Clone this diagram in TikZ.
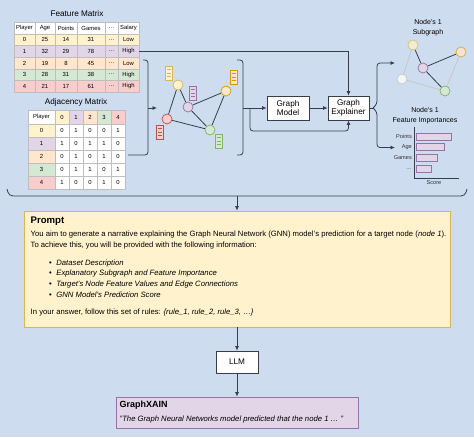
\documentclass[tikz,border=0pt]{standalone}
\usepackage{fontspec}
\setmainfont{Liberation Sans}
\usetikzlibrary{arrows.meta,positioning}
\definecolor{bgcol}{RGB}{205,220,238}
\definecolor{linecol}{RGB}{55,62,75}
\definecolor{cellD}{RGB}{190,190,190}
\definecolor{yelF}{HTML}{FFF2CC}\definecolor{yelD}{HTML}{D6B656}
\definecolor{purF}{HTML}{E1D5E7}\definecolor{purD}{HTML}{9673A6}
\definecolor{oraF}{HTML}{FFE6CC}\definecolor{oraD}{HTML}{D79B00}
\definecolor{grnF}{HTML}{D5E8D4}\definecolor{grnD}{HTML}{82B366}
\definecolor{redF}{HTML}{F8CECC}\definecolor{redD}{HTML}{B85450}
\definecolor{whtF}{HTML}{F5F5F5}\definecolor{whtD}{HTML}{C8C8C8}
\tikzset{
	cell/.style={draw=cellD,inner sep=0pt,minimum height=11.6pt,font=\fontsize{5.9}{6.5}\selectfont},
	ttl/.style={align=center,font=\fontsize{8.2}{9.5}\selectfont},
	sttl/.style={align=center,font=\fontsize{7}{10.5}\selectfont},
	gnode/.style={circle,draw=#1D,fill=#1F,minimum size=10pt,inner sep=0pt,line width=0.7pt},
	vec/.style={rectangle,draw=#1D,fill=#1F,minimum width=7pt,minimum height=14pt,inner sep=0pt,line width=0.6pt,
		path picture={\foreach \k in {-3.5,0,3.5} \draw[#1D,line width=0.6pt]([xshift=-2pt,yshift=\k pt]path picture bounding box.center)--++(4pt,0);}},
	box/.style={draw=linecol,fill=white,line width=0.7pt,minimum width=42pt,minimum height=24pt,inner sep=0.5pt,align=center,font=\fontsize{8.2}{9.5}\selectfont},
	ln/.style={draw=linecol,line width=0.8pt},
	arr/.style={ln,-{Latex[length=4.5pt,width=4pt]}},
	bar/.style={draw=purD,fill=purF,line width=0.6pt,minimum height=7pt,inner sep=0pt,anchor=west},
	axl/.style={anchor=east,inner sep=1pt,font=\fontsize{5.6}{6.5}\selectfont,text=black!80},
	ptext/.style={anchor=west,inner sep=0pt,font=\fontsize{7.7}{9}\selectfont},
}
\begin{document}
\begin{tikzpicture}[x=1pt,y=-1pt]
	\useasboundingbox (0,0) rectangle (474,437);
	\fill[bgcol] (0,0) rectangle (474,437);
	% feature matrix
	\node[ttl] (ftitle) at (77,14) {Feature Matrix};
	\foreach \c/\x/\w/\t in {0/24.5/21/Player,1/45/20/Age,2/66/22/Points,3/91/28/Games,4/111.5/13/\ldots,5/128.5/21/Salary}
		\node[cell,fill=white,minimum width=\w pt,minimum height=12pt] (fh\c) at (\x,28) {\t};
	\foreach \r/\y/\cl/\a/\p/\g/\s in {0/39.8/yel/25/14/31/Low,1/51.4/pur/32/29/78/High,2/63/ora/19/8/45/Low,3/74.6/grn/28/31/38/High,4/86.2/red/21/17/61/High}{
		\node[cell,fill=\cl F,minimum width=21pt] (fr\r c0) at (24.5,\y) {\r};
		\node[cell,fill=\cl F,minimum width=20pt] (fr\r c1) at (45,\y) {\a};
		\node[cell,fill=\cl F,minimum width=22pt] (fr\r c2) at (66,\y) {\p};
		\node[cell,fill=\cl F,minimum width=28pt] (fr\r c3) at (91,\y) {\g};
		\node[cell,fill=\cl F,minimum width=13pt] (fr\r c4) at (111.5,\y) {\ldots};
		\node[cell,fill=\cl F,minimum width=21pt] (fr\r c5) at (128.5,\y) {\s};
	}
	% adjacency matrix
	\node[ttl] (atitle) at (76,102) {Adjacency Matrix};
	\node[cell,fill=white,minimum width=27pt,minimum height=14pt] (ah) at (41.5,117) {Player};
	\foreach \k/\cl in {0/yel,1/pur,2/ora,3/grn,4/red}
		\node[cell,fill=\cl F,minimum width=14pt,minimum height=14pt] (ah\k) at ({62+14*\k},117) {\k};
	\foreach \r/\y/\cl/\vals in {0/130.5/yel/{0,1,0,0,1},1/143.5/pur/{1,0,1,1,0},2/156.5/ora/{0,1,0,1,0},3/169.5/grn/{0,1,1,0,1},4/182.5/red/{1,0,0,1,0}}{
		\node[cell,fill=\cl F,minimum width=27pt,minimum height=13pt] (ar\r) at (41.5,\y) {\r};
		\foreach \v [count=\k from 0] in \vals
			\node[cell,fill=white,minimum width=14pt,minimum height=13pt] (a\r c\k) at ({62+14*\k},\y) {\v};
	}
	% bracket round the matrices
	\coordinate (mb) at (148,108);
	\draw[ln,rounded corners=3pt] (143,60) -- (148,60) -- (148,155) -- (128,155);
	% input graph
	\node[gnode=yel] (g0) at (178,85) {};
	\node[gnode=pur] (g1) at (188,107) {};
	\node[gnode=ora] (g2) at (226,91) {};
	\node[gnode=grn] (g3) at (210,130) {};
	\node[gnode=red] (g4) at (167,119) {};
	\draw[ln] (g0)--(g1);
	\draw[ln] (g0)--(g4);
	\draw[ln] (g1)--(g2);
	\draw[ln] (g1)--(g3);
	\draw[ln] (g2)--(g3);
	\draw[ln] (g3)--(g4);
	\node[vec=yel] (v0) at (169,73) {};
	\node[vec=pur] (v1) at (193,93) {};
	\node[vec=ora] (v2) at (234,77) {};
	\node[vec=grn] (v3) at (219,141) {};
	\node[vec=red] (v4) at (160,132) {};
	\coordinate (gl) at (157,108);
	\draw[arr] (mb) -- (gl);
	\draw[ln,rounded corners=3pt] (237,60) -- (243,60) -- (243,155) -- (237,155);
	\coordinate (gb) at (243,108);
	% models
	\node[box] (gm) at (288,108) {Graph\\Model};
	\node[box,minimum width=41pt] (ge) at (348.5,108) {Graph\\Explainer};
	\draw[arr] (gb) -- (gm);
	\draw[arr] (gm) -- (ge);
	\draw[arr] (fr1c5.east) -| (ge.north);
	\draw[arr,rounded corners=3pt] (250,108) |- (300,131) -| (ge.south);
	% explainer outputs
	\coordinate (eb) at (373,108);
	\coordinate (sg) at (395,63);
	\coordinate (fi) at (395,147.5);
	\draw[ln] (ge.east) -- (eb);
	\draw[arr,rounded corners=3pt] (eb) -- (377,104) -- (377,63) -- (sg);
	\draw[arr,rounded corners=3pt] (eb) -- (377,112) -- (377,147.5) -- (fi);
	% subgraph
	\node[sttl] (stitle) at (428,27.5) {Node's 1\\Subgraph};
	\node[gnode=yel,opacity=0.75] (s0) at (413,45) {};
	\node[gnode=pur] (s1) at (423,68) {};
	\node[gnode=ora,opacity=0.75] (s2) at (461,52) {};
	\node[gnode=grn] (s3) at (445,91) {};
	\node[gnode=wht] (s4) at (402,79) {};
	\draw[ln,draw=whtD] (s0)--(s4);
	\draw[ln,draw=whtD] (s2)--(s3);
	\draw[ln,draw=whtD] (s3)--(s4);
	\draw[ln] (s0)--(s1);
	\draw[ln] (s1)--(s2);
	\draw[ln] (s1)--(s3);
	% feature importances
	\node[sttl] (ftit) at (425,115.5) {Node's 1\\Feature Importances};
	\node[bar,minimum width=35pt] (b0) at (416,136.7) {};
	\node[bar,minimum width=28pt] (b1) at (416,147) {};
	\node[bar,minimum width=21pt] (b2) at (416,158) {};
	\node[bar,minimum width=15pt] (b3) at (416,168.7) {};
	\node[axl] (l0) at (413,136.7) {Points};
	\node[axl] (l1) at (413,147) {Age};
	\node[axl] (l2) at (413,158) {Games};
	\node[axl] (l3) at (413,168.7) {\ldots};
	\coordinate (ax0) at (414,127);
	\coordinate (ax1) at (414,178);
	\coordinate (ax2) at (459,178);
	\draw[ln] (ax0) -- (ax1) -- (ax2);
	\node[axl,anchor=north] (score) at (434,179.5) {Score};
	% bottom brace
	\coordinate (bb) at (237,196);
	\draw[ln,rounded corners=4pt] (7,189) -- (9,196) -- (465,196) -- (467,189);
	% prompt
	\node[draw=yelD,fill=yelF,line width=0.7pt,minimum width=426pt,minimum height=116pt] (prompt) at (237,269) {};
	\draw[arr] (bb) -- (prompt.north);
	\node[anchor=west,inner sep=0pt,font=\fontsize{9.6}{11}\selectfont\bfseries] (ptitle) at (30.5,221) {Prompt};
	\node[ptext] (p1) at (30.5,235) {You aim to generate a narrative explaining the Graph Neural Network (GNN) model's prediction for a target node (\textit{node 1}).};
	\node[ptext] (p2) at (30.5,245.5) {To achieve this, you will be provided with the following information:};
	\node[ptext] (i1) at (49,263.5) {\textbullet\hspace{4.5pt}\textit{Dataset Description}};
	\node[ptext] (i2) at (49,274) {\textbullet\hspace{4.5pt}\textit{Explanatory Subgraph and Feature Importance}};
	\node[ptext] (i3) at (49,284.3) {\textbullet\hspace{4.5pt}\textit{Target's Node Feature Values and Edge Connections}};
	\node[ptext] (i4) at (49,294.3) {\textbullet\hspace{4.5pt}\textit{GNN Model's Prediction Score}};
	\node[ptext] (p3) at (30.5,313) {In your answer, follow this set of rules: \textit{\{rule\_1, rule\_2, rule\_3, \ldots\}}};
	% llm and output
	\node[box,minimum height=22pt] (llm) at (237,362) {LLM};
	\node[draw=purD,fill=purF,line width=0.7pt,minimum width=242pt,minimum height=31pt] (gx) at (237,412.5) {};
	\draw[arr] (prompt.south) -- (llm.north);
	\draw[arr] (llm.south) -- (gx.north);
	\node[anchor=west,inner sep=0pt,font=\fontsize{9}{11}\selectfont\bfseries] (gxt) at (119.5,405) {GraphXAIN};
	\node[ptext,font=\fontsize{7.7}{9}\selectfont\itshape] (gxq) at (119.5,420) {"The Graph Neural Networks model predicted that the node 1 \ldots\ "};
\end{tikzpicture}
\end{document}
